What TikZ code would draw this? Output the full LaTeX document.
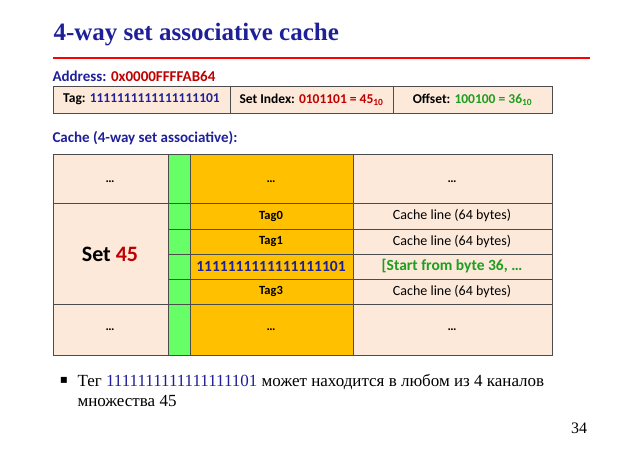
\documentclass[tikz,border=0pt]{standalone}
\usepackage{fontspec}
\setmainfont{Liberation Serif}
\newfontfamily\carl{Carlito}
\newfontfamily\djv{DejaVu Sans}
\definecolor{navy}{HTML}{1F1F9A}
\definecolor{dred}{HTML}{C00000}
\definecolor{dgreen}{HTML}{1E9E1E}
\definecolor{peach}{HTML}{FCE9DA}
\definecolor{lgreen}{HTML}{66FF66}
\definecolor{orng}{HTML}{FFC000}
\tikzset{cell/.style={draw=black!70,line width=0.8pt},
 txt/.style={font=\carl\bfseries\fontsize{13.5}{15}\selectfont},
 stxt/.style={font=\carl\bfseries\fontsize{12.5}{14}\selectfont},
 ctxt/.style={font=\carl\fontsize{14}{16}\selectfont}}
\begin{document}
\begin{tikzpicture}[x=1pt,y=-1pt]
\useasboundingbox (0,0) rectangle (638,451);
\node[anchor=west,text=navy,font=\bfseries\fontsize{25}{28}\selectfont] (title) at (50,35) {4-way set associative cache};
\draw[red,line width=1.5pt] (53,58) -- (590,58);
\node[anchor=west,font=\carl\bfseries\fontsize{15}{17}\selectfont] (addr) at (49,76) {\textcolor{navy}{Address:} \textcolor{dred}{0x0000FFFFAB64}};
\filldraw[cell,fill=peach] (53,86) rectangle (552,113);
\draw[cell] (230,86) -- (230,113) (393,86) -- (393,113);
\node[txt] (tag) at (141.5,99.5) {Tag: \textcolor{navy}{1111111111111111101}};
\node[txt] (idx) at (311.5,99.5) {Set Index: \textcolor{dred}{0101101 = 45\textsubscript{10}}};
\node[txt] (off) at (472.5,99.5) {Offset: \textcolor{dgreen}{100100 = 36\textsubscript{10}}};
\node[anchor=west,font=\carl\bfseries\fontsize{15}{17}\selectfont,text=navy] (cache) at (49,138) {Cache (4-way set associative):};
% table
\fill[peach] (53,154) rectangle (552,355);
\fill[lgreen] (168,154) rectangle (190,355);
\fill[orng] (190,154) rectangle (353,355);
\draw[cell] (53,154) rectangle (552,355);
\draw[cell] (168,154) -- (168,355) (190,154) -- (190,355) (353,154) -- (353,355);
\draw[cell] (53,203) -- (552,203) (53,304) -- (552,304);
\draw[cell] (168,229) -- (552,229) (168,254) -- (552,254) (168,279) -- (552,279);
\node[stxt] (d1) at (110,182) {…};
\node[stxt] (d2) at (271,182) {…};
\node[stxt] (d3) at (452,182) {…};
\node[font=\carl\bfseries\fontsize{22}{24}\selectfont] (set) at (110,254) {Set \textcolor{dred}{45}};
\node[stxt] (t0) at (271,216) {Tag0};
\node[stxt] (t1) at (271,241.5) {Tag1};
\node[font=\carl\bfseries\fontsize{15.5}{17}\selectfont,text=navy] (t2) at (271,266.5) {1111111111111111101};
\node[stxt] (t3) at (271,291.5) {Tag3};
\node[ctxt] (c0) at (452,216) {Cache line (64 bytes)};
\node[ctxt] (c1) at (452,241.5) {Cache line (64 bytes)};
\node[font=\carl\bfseries\fontsize{15.5}{17}\selectfont,text=dgreen] (c2) at (452,266.5) {[Start from byte 36, …};
\node[ctxt] (c3) at (452,291.5) {Cache line (64 bytes)};
\node[stxt] (e1) at (110,330) {…};
\node[stxt] (e2) at (271,330) {…};
\node[stxt] (e3) at (452,330) {…};
\node[font=\djv\fontsize{12}{12}\selectfont] (bul) at (64,380) {▪};
\node[anchor=west,font=\fontsize{17}{20}\selectfont,align=left] (txtb) at (74,390) {Тег \textcolor{navy}{1111111111111111101} может находится в любом из 4 каналов\\множества 45};
\node[font=\fontsize{16}{18}\selectfont] (pg) at (579,428) {34};
\end{tikzpicture}
\end{document}
